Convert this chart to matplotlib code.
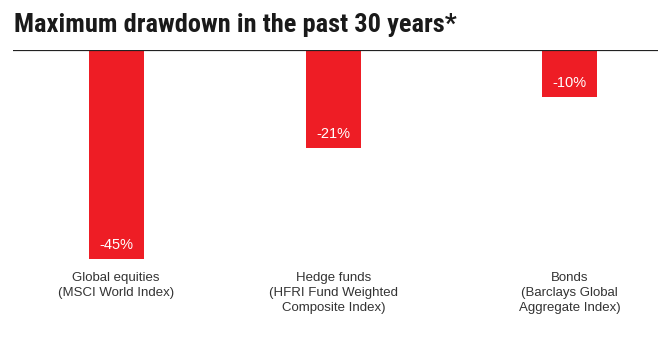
import matplotlib
matplotlib.use("Agg")
import matplotlib.pyplot as plt
from matplotlib import font_manager

# Maximum drawdown by asset class
categories = ["Global equities\n(MSCI World Index)",
              "Hedge funds\n(HFRI Fund Weighted\nComposite Index)",
              "Bonds\n(Barclays Global\nAggregate Index)"]
drawdowns = [-45, -21, -10]
value_labels = ["-45%", "-21%", "-10%"]

red = "#ee1d25"
names = {f.name for f in font_manager.fontManager.ttflist}
narrow = [n for n in ("Roboto Condensed", "Liberation Sans Narrow", "Open Sans Condensed") if n in names]
title_font = narrow[0] if narrow else "Roboto"
title_size = 19 if narrow else 15

fig = plt.figure(figsize=(6.71, 3.39), dpi=100)
W, H = 671, 339

# axes spans the rule under the title down past the lowest bar
left, right, top = 13, 658, 50.3
px_per_unit = 4.635
ymin = -60
bottom = top + (-ymin) * px_per_unit
ax = fig.add_axes([left / W, 1 - bottom / H, (right - left) / W, (bottom - top) / H])
ax.set_xlim(0, 1)
ax.set_ylim(ymin, 0)

xpos = [0.160, 0.497, 0.863]
ax.bar(xpos, drawdowns, width=0.0853, color=red, zorder=2)
ax.axhline(0, color="#222222", lw=1.6, zorder=3)

for x, v, lab in zip(xpos, drawdowns, value_labels):
    ax.text(x, v + 3.0, lab, ha="center", va="center", color="white",
            fontsize=10.5, fontfamily="Liberation Sans")

label_y = -(272 - top) / px_per_unit
for x, cat in zip(xpos, categories):
    ax.text(x, label_y, cat, ha="center", va="top", color="#333333",
            fontsize=9.5, fontfamily="Liberation Sans", linespacing=1.36)

ax.axis("off")

fig.text(14 / W, 1 - 31.7 / H, "Maximum drawdown in the past 30 years*",
         ha="left", va="baseline", fontsize=title_size, fontweight="bold",
         fontfamily=title_font, color="#1a1a1a")

fig.savefig("out.png", dpi=100)
